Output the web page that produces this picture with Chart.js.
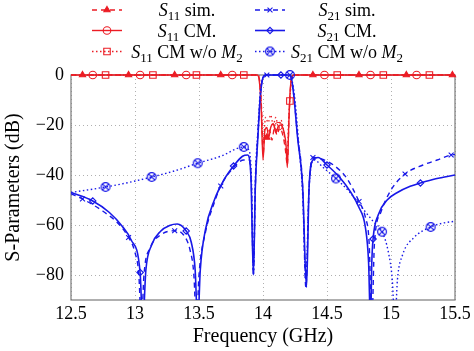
<!DOCTYPE html>
<html>
<head>
<meta charset="utf-8">
<script src="https://cdn.jsdelivr.net/npm/chart.js@4.4.1/dist/chart.umd.min.js"></script>
<style>
  html, body { margin: 0; padding: 0; background: #fff; }
  canvas { display: block; }
</style>
</head>
<body>
<canvas id="chart" width="474" height="351"></canvas>
<script>
// ── axis ticks ──
const X_TICKS = [12.5, 13, 13.5, 14, 14.5, 15, 15.5];
const Y_TICKS = [0, -20, -40, -60, -80];

// ── S11 sim. (dashed, filled triangles) ──
const s11SimFreq = [12.5, 12.59, 12.95, 13.31, 13.67, 13.96, 13.975, 13.99, 14.0, 14.015, 14.03, 14.05, 14.07, 14.09, 14.11, 14.13, 14.155, 14.175, 14.19, 14.205, 14.22, 14.24, 14.39, 14.75, 15.12, 15.48, 15.5];
const s11SimDb = [0, 0, 0, 0, 0, 0, -3, -15, -32, -24, -25, -22, -26, -21, -24, -21, -24, -30, -36, -15, -2, 0, 0, 0, 0, 0, 0];
const s11SimMarks = [12.59, 12.95, 13.31, 13.67, 14.03, 14.39, 14.75, 15.12, 15.48];

// ── S21 sim. (dashed, x) ──
const s21SimFreq = [12.5, 12.59, 12.75, 12.88, 12.95, 13.0, 13.03, 13.05, 13.07, 13.12, 13.2, 13.31, 13.38, 13.43, 13.46, 13.48, 13.5, 13.55, 13.62, 13.67, 13.77, 13.85, 13.89, 13.91, 13.925, 13.94, 13.96, 13.98, 14.0, 14.03, 14.2, 14.22, 14.24, 14.27, 14.31, 14.335, 14.36, 14.39, 14.45, 14.55, 14.65, 14.75, 14.8, 14.83, 14.85, 14.87, 14.92, 15.0, 15.11, 15.25, 15.36, 15.47, 15.5];
const s21SimDb = [-47.5, -49.6, -54.5, -60, -65, -71, -80, -100, -80, -69, -64, -62.3, -64, -70, -80, -100, -80, -63, -51, -44.4, -37, -34, -34, -45, -80, -45, -24, -8, -1, 0, 0, -1, -8, -24, -45, -85, -45, -33, -33.5, -36, -41, -50.6, -57, -68, -100, -68, -55, -46, -39.6, -36, -34, -32, -31.8];
const s21SimMarks = [12.59, 12.95, 13.31, 13.67, 14.03, 14.39, 14.75, 15.11, 15.47];

// ── S11 CM. (solid, circles) ──
const s11CmFreq = [12.5, 12.67, 13.04, 13.4, 13.76, 13.955, 13.97, 13.985, 14.0, 14.015, 14.03, 14.045, 14.06, 14.08, 14.1, 14.12, 14.14, 14.165, 14.18, 14.19, 14.2, 14.21, 14.225, 14.24, 14.48, 14.84, 15.2, 15.5];
const s11CmDb = [0, 0, 0, 0, 0, 0, -2, -12, -34, -22, -21, -25, -21, -19.5, -23, -20.5, -20, -23, -28, -37, -22, -8, -1, 0, 0, 0, 0, 0];
const s11CmMarks = [12.67, 13.04, 13.4, 13.76, 14.12, 14.48, 14.84, 15.2];

// ── S21 CM. (solid, diamonds) ──
const s21CmFreq = [12.5, 12.67, 12.8, 12.9, 12.97, 13.04, 13.06, 13.085, 13.13, 13.2, 13.27, 13.33, 13.4, 13.44, 13.47, 13.49, 13.51, 13.55, 13.62, 13.7, 13.77, 13.84, 13.88, 13.905, 13.925, 13.94, 13.96, 13.98, 14.0, 14.02, 14.14, 14.2, 14.22, 14.24, 14.27, 14.31, 14.34, 14.36, 14.39, 14.43, 14.5, 14.6, 14.68, 14.75, 14.8, 14.825, 14.84, 14.85, 14.86, 14.9, 14.97, 15.05, 15.15, 15.23, 15.35, 15.5];
const s21CmDb = [-47, -50.4, -55, -60.5, -66, -79, -100, -78, -68, -62.5, -60.2, -59.6, -62.4, -67, -78, -100, -78, -62, -50, -41.5, -36.4, -32.5, -32, -40, -80, -45, -25, -8, -1, 0, 0, 0, -1, -8, -25, -45, -85, -45, -34, -33, -36, -41, -46.5, -53, -61, -75, -100, -75, -65.6, -56, -50, -47, -44.5, -43.2, -41.5, -40];
const s21CmMarks = [12.67, 13.04, 13.4, 13.77, 14.14, 14.5, 14.86, 15.23];

// ── S11 CM w/o M2 (dotted, squares) ──
const s11NoM2Freq = [12.5, 12.77, 13.14, 13.48, 13.85, 13.96, 13.975, 13.99, 14.0, 14.02, 14.04, 14.06, 14.08, 14.1, 14.12, 14.14, 14.16, 14.18, 14.19, 14.2, 14.21, 14.22, 14.235, 14.58, 14.94, 15.3, 15.5];
const s11NoM2Db = [0, 0, 0, 0, 0, 0, -3, -15, -28, -17, -19, -16, -20, -17, -21, -18, -22, -30, -32, -18, -10.4, -3, 0, 0, 0, 0, 0];
const s11NoM2Marks = [12.77, 13.14, 13.48, 13.85, 14.21, 14.58, 14.94, 15.3];

// ── S21 CM w/o M2 (dotted, circled x) ──
const s21NoM2Freq = [12.5, 12.77, 12.95, 13.13, 13.3, 13.49, 13.67, 13.85, 13.89, 13.91, 13.925, 13.94, 13.96, 13.98, 14.0, 14.03, 14.21, 14.23, 14.25, 14.28, 14.31, 14.335, 14.36, 14.4, 14.47, 14.57, 14.68, 14.78, 14.86, 14.93, 14.98, 15.01, 15.03, 15.05, 15.09, 15.18, 15.31, 15.4, 15.5];
const s21NoM2Db = [-47, -44.8, -43, -40.8, -38.5, -35.3, -32.5, -28.8, -30, -42, -80, -42, -22, -6, -1, 0, 0, -3, -10, -28, -48, -82, -45, -34, -37, -41.4, -47, -53.5, -58.5, -62.7, -71, -82, -100, -82, -72, -65, -60.8, -59.3, -58.5];
const s21NoM2Marks = [12.77, 13.13, 13.49, 13.85, 14.21, 14.57, 14.93, 15.31];

const LEGEND_TEXT = ["S_11 sim.", "S_21 sim.", "S_11 CM.", "S_21 CM.", "S_11 CM w/o M_2", "S_21 CM w/o M_2"];

const RED = "rgb(236,28,36)";
const BLUE = "rgb(24,24,232)";
const NONE = "rgba(0,0,0,0)";
const FONT_FAMILY = '"Liberation Serif", "Times New Roman", serif';

function pairs(fs, ds) {
  return fs.map((f, i) => ({ x: f, y: ds[i] }));
}

// circled-x marker (pgfplots "otimes")
function otimes(color) {
  const c = document.createElement("canvas");
  c.width = 12;
  c.height = 12;
  const g = c.getContext("2d");
  g.strokeStyle = color;
  g.lineWidth = 1.2;
  g.beginPath();
  g.arc(6, 6, 4.4, 0, Math.PI * 2);
  g.stroke();
  const d = 3.1;
  g.beginPath();
  g.moveTo(6 - d, 6 - d);
  g.lineTo(6 + d, 6 + d);
  g.moveTo(6 + d, 6 - d);
  g.lineTo(6 - d, 6 + d);
  g.stroke();
  return c;
}

function series(label, fs, ds, marks, color, dash, width, style, radius, fill, order) {
  return {
    label,
    data: pairs(fs, ds),
    borderColor: color,
    borderWidth: width,
    borderDash: dash,
    backgroundColor: fill,
    pointStyle: style,
    pointBorderColor: color,
    pointBackgroundColor: fill,
    pointBorderWidth: 1.1,
    pointRadius: (c) => (c.raw && marks.includes(c.raw.x) ? radius : 0),
    pointHoverRadius: 0,
    legendRadius: radius,
    cubicInterpolationMode: "monotone",
    fill: false,
    order,
    clip: { left: 0, top: false, right: 6, bottom: 0 },
  };
}

const datasets = [
  series("S11 sim.", s11SimFreq, s11SimDb, s11SimMarks, RED, [5, 4], 1.3, "triangle", 3.6, RED, 5),
  series("S21 sim.", s21SimFreq, s21SimDb, s21SimMarks, BLUE, [5, 4], 1.4, "crossRot", 3.5, NONE, 4),
  series("S11 CM.", s11CmFreq, s11CmDb, s11CmMarks, RED, [], 1.4, "circle", 3.8, NONE, 3),
  series("S21 CM.", s21CmFreq, s21CmDb, s21CmMarks, BLUE, [], 1.6, "rectRot", 3.2, NONE, 2),
  series("S11 CM w/o M2", s11NoM2Freq, s11NoM2Db, s11NoM2Marks, RED, [1.5, 2.5], 1.3, "rect", 4.6, NONE, 1),
  series("S21 CM w/o M2", s21NoM2Freq, s21NoM2Db, s21NoM2Marks, BLUE, [1.5, 2.5], 1.4, otimes(BLUE), 4.5, NONE, 0),
];

// ── legend drawn with subscripts, 3 rows x 2 columns ──
const LEG_ROWS = [10, 30.5, 51.5];
const LEG_SAMPLE_X = [107, 270];
const LEG_TEXT_X = [187, 347];

function texParts(s) {
  const out = [];
  const re = /([A-Z])_(\d+)/g;
  let last = 0, m;
  while ((m = re.exec(s))) {
    if (m.index > last) out.push({ t: s.slice(last, m.index), f: "18px " + FONT_FAMILY, dy: 0 });
    out.push({ t: m[1], f: "italic 18px " + FONT_FAMILY, dy: 0 });
    out.push({ t: m[2], f: "13px " + FONT_FAMILY, dy: 4 });
    last = re.lastIndex;
  }
  if (last < s.length) out.push({ t: s.slice(last), f: "18px " + FONT_FAMILY, dy: 0 });
  return out;
}

function drawTex(g, s, cx, baseY) {
  const parts = texParts(s);
  let w = 0;
  parts.forEach((p) => {
    g.font = p.f;
    p.w = g.measureText(p.t).width;
    w += p.w;
  });
  let x = cx - w / 2;
  g.fillStyle = "#000";
  g.textBaseline = "alphabetic";
  g.textAlign = "left";
  parts.forEach((p) => {
    g.font = p.f;
    g.fillText(p.t, x, baseY + p.dy);
    x += p.w;
  });
}

const legendPlugin = {
  id: "texLegend",
  afterDraw(chart) {
    const g = chart.ctx;
    chart.data.datasets.forEach((ds, i) => {
      const col = i % 2, row = Math.floor(i / 2);
      const y = LEG_ROWS[row], cx = LEG_SAMPLE_X[col];
      g.save();
      g.strokeStyle = ds.borderColor;
      g.lineWidth = ds.borderWidth;
      g.setLineDash(ds.borderDash);
      g.beginPath();
      g.moveTo(cx - 15, y);
      g.lineTo(cx + 15, y);
      g.stroke();
      g.setLineDash([]);
      g.fillStyle = ds.pointBackgroundColor;
      g.strokeStyle = ds.borderColor;
      g.lineWidth = ds.pointBorderWidth;
      Chart.helpers.drawPoint(g, { pointStyle: ds.pointStyle, radius: ds.legendRadius, borderWidth: ds.pointBorderWidth, rotation: 0 }, cx, y);
      g.restore();
      drawTex(g, LEGEND_TEXT[i], LEG_TEXT_X[col], y + 6);
    });
  },
};

const framePlugin = {
  id: "frame",
  beforeDatasetsDraw(chart) {
    const { left, top, right, bottom } = chart.chartArea;
    const g = chart.ctx;
    g.save();
    g.strokeStyle = "#7a7a7a";
    g.lineWidth = 1.2;
    g.strokeRect(left, top, right - left, bottom - top);
    g.restore();
  },
};

const fmtX = (v) => (Number.isInteger(v) ? String(v) : v.toFixed(1));
const fmtY = (v) => (v < 0 ? "\u2212" + Math.abs(v) : String(v));

new Chart(document.getElementById("chart"), {
  type: "line",
  data: { datasets },
  options: {
    responsive: false,
    animation: false,
    events: [],
    layout: { padding: { top: 75, right: 19, left: 0, bottom: 0 } },
    plugins: { legend: { display: false }, tooltip: { enabled: false } },
    scales: {
      x: {
        type: "linear",
        min: 12.5,
        max: 15.5,
        afterBuildTicks: (s) => { s.ticks = X_TICKS.map((v) => ({ value: v })); },
        afterFit: (s) => { s.height = 51; },
        ticks: { callback: fmtX, color: "#000", font: { family: FONT_FAMILY, size: 18 }, maxRotation: 0, autoSkip: false, padding: 3 },
        grid: { color: "#b0b0b0", drawTicks: false, lineWidth: 1 },
        border: { display: false, dash: [1, 3] },
        title: { display: true, text: "Frequency (GHz)", color: "#000", font: { family: FONT_FAMILY, size: 20 }, padding: { top: 2, bottom: 2 } },
      },
      y: {
        min: -90,
        max: 0,
        afterBuildTicks: (s) => { s.ticks = Y_TICKS.map((v) => ({ value: v })); },
        afterFit: (s) => { s.width = 71; },
        ticks: { callback: fmtY, color: "#000", font: { family: FONT_FAMILY, size: 18 }, padding: 7 },
        grid: { color: "#b0b0b0", drawTicks: false, lineWidth: 1 },
        border: { display: false, dash: [1, 3] },
        title: { display: true, text: "S-Parameters (dB)", color: "#000", font: { family: FONT_FAMILY, size: 20 }, padding: { top: 2, bottom: 2 } },
      },
    },
  },
  plugins: [framePlugin, legendPlugin],
});
</script>
</body>
</html>
